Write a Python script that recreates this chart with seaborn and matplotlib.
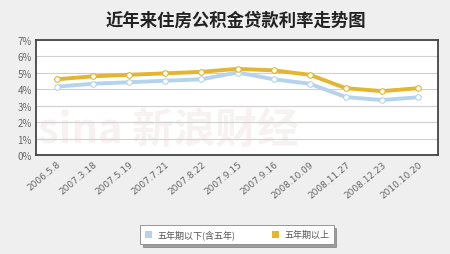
import matplotlib
matplotlib.use("Agg")
import matplotlib.pyplot as plt
import seaborn as sns
import pandas as pd
from matplotlib.ticker import FuncFormatter
from matplotlib.patches import Patch

dates = ["2006.5.8", "2007.3.18", "2007.5.19", "2007.7.21", "2007.8.22", "2007.9.15",
         "2007.9.16", "2008.10.09", "2008.11.27", "2008.12.23", "2010.10.20"]
below5 = [4.14, 4.32, 4.41, 4.50, 4.59, 5.00, 4.59, 4.32, 3.51, 3.33, 3.50]
above5 = [4.59, 4.77, 4.86, 4.95, 5.04, 5.22, 5.13, 4.86, 4.05, 3.87, 4.05]
series_names = ["五年期以下(含五年)", "五年期以上"]
title = "近年来住房公积金贷款利率走势图"

sns.set_theme(style="white")
plt.rcParams['font.family'] = ['Noto Sans CJK SC', 'DejaVu Sans']

df = pd.DataFrame({
    "date": dates * 2,
    "x": list(range(len(dates))) * 2,
    "rate": below5 + above5,
    "series": [series_names[0]] * len(dates) + [series_names[1]] * len(dates),
})
palette = {series_names[0]: "#b5d3ec", series_names[1]: "#e3b531"}

fig = plt.figure(figsize=(4.5, 2.55), dpi=100)
fig.patch.set_facecolor("#efefef")
ax = fig.add_axes([36/450, 1 - 156/255, (438-36)/450, (156-40.5)/255])
ax.set_facecolor("white")

# faint watermark
ax.text(0.33, 0.22, "sina 新浪财经", transform=ax.transAxes, fontsize=30,
        color="#f8f1f1", ha="center", va="center", fontweight="bold", zorder=0,
        fontstyle="italic")

sns.lineplot(data=df, x="x", y="rate", hue="series", palette=palette, ax=ax,
             linewidth=2.8, marker="o", markersize=4, markerfacecolor="white",
             markeredgewidth=0.8, legend=False, zorder=3)
for line, c in zip(ax.lines, [palette[s] for s in series_names]):
    line.set_markeredgecolor(c)

ax.set_xlim(-0.58, 10.55)
ax.set_ylim(0, 7)
ax.set_yticks(range(0, 8))
ax.yaxis.set_major_formatter(FuncFormatter(lambda v, p: f"{int(v)}%"))
ax.grid(axis="y", color="#d0d0d0", linewidth=0.8)
ax.set_axisbelow(True)
ax.set_xticks(range(len(dates)))
ax.set_xticklabels(dates, rotation=40, ha="right", rotation_mode="anchor",
                   fontsize=6.5, color="#666666", family=['DejaVu Sans'])
ax.tick_params(axis="y", labelsize=7, colors="#666666", length=0, pad=3)
ax.tick_params(axis="x", length=0, pad=3)
for s in ax.spines.values():
    s.set_color("#444444")
    s.set_linewidth(1.3)
ax.set_xlabel("")
ax.set_ylabel("")

fig.text(236/450, 1 - 21/255, title, ha="center", va="center", fontsize=12.5,
         fontweight="bold", color="#222222")

handles = [Patch(facecolor=palette[s], edgecolor="none") for s in series_names]
leg = fig.legend(handles, series_names, loc="center", bbox_to_anchor=(237/450, 1 - 235.5/255),
                 ncol=2, fontsize=6.5, frameon=True, fancybox=False, shadow=True,
                 handlelength=0.8, handleheight=0.8, columnspacing=4, handletextpad=0.6,
                 borderpad=0.5)
leg.get_frame().set_edgecolor("#888888")
leg.get_frame().set_linewidth(0.6)
for t in leg.get_texts():
    t.set_color("#555555")

fig.savefig("out.png", dpi=100, facecolor=fig.get_facecolor())
